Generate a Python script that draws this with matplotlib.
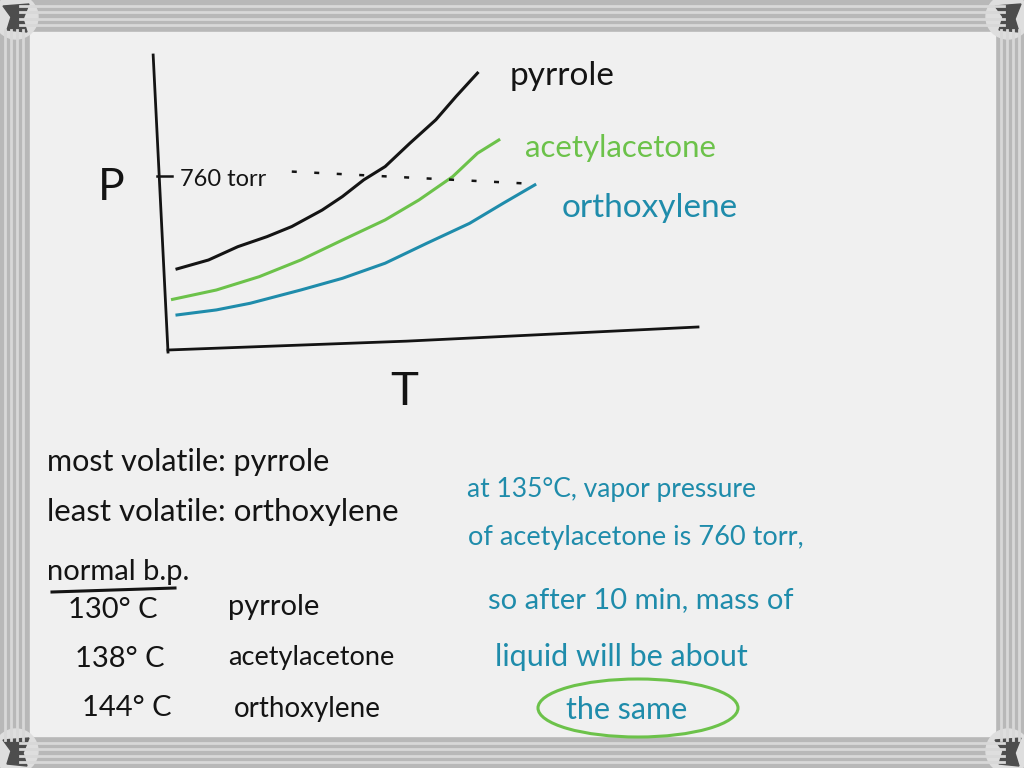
import matplotlib
matplotlib.use("Agg")
import matplotlib.pyplot as plt
from matplotlib.patches import Rectangle, Ellipse, Polygon, Circle

plt.rcParams['font.family'] = ['Lato', 'DejaVu Sans']

# vapour pressure curves (T in deg C, P in torr)
pyrrole_T = [113.0, 115.8, 118.4, 121.0, 123.2, 125.9, 127.7, 129.6, 131.5, 133.7, 136.0, 137.8, 139.7]
pyrrole_P = [354, 393, 451, 495, 539, 611, 670, 743, 801, 903, 1005, 1107, 1209]

acac_T = [112.6, 116.5, 120.3, 124.0, 127.7, 131.5, 134.5, 137.5, 139.7, 141.6]
acac_P = [221, 262, 320, 393, 480, 568, 655, 757, 859, 917]

oxylene_T = [113.0, 116.5, 119.5, 124.0, 127.7, 131.5, 135.2, 139.0, 142.0, 144.8]
oxylene_P = [153, 175, 204, 262, 313, 379, 466, 553, 641, 721]

# dotted 760 torr guide
ref_T = [123.2, 144.4]
ref_P = [779, 726]

names = ['pyrrole', 'acetylacetone', 'orthoxylene']
boiling_points = ['130° C', '138° C', '144° C']

black = '#141414'
green = '#6cc24a'
blue = '#1f8cab'

fig = plt.figure(figsize=(10.24, 7.68), dpi=100)

# whiteboard frame, drawn in pixel space
board = fig.add_axes([0, 0, 1, 1])
board.set_xlim(0, 1024)
board.set_ylim(768, 0)
board.axis('off')
board.add_patch(Rectangle((0, 0), 1024, 768, color='#b8b8b8'))
for y in [6, 12, 19, 25]:
    board.plot([20, 1004], [y, y], color='#d8d8d8', lw=2)
    board.plot([20, 1004], [768 - y, 768 - y], color='#d8d8d8', lw=2)
for x in [5, 11, 17, 23]:
    board.plot([x, x], [30, 740], color='#d8d8d8', lw=2)
    board.plot([1024 - x, 1024 - x], [30, 740], color='#d8d8d8', lw=2)
board.add_patch(Rectangle((30, 32), 965, 704, color='#f0f0f0'))
for cx, cy in [(16, 17), (1008, 17), (16, 751), (1008, 751)]:
    board.add_patch(Circle((cx, cy), 22, color='#dedede'))
    board.add_patch(Polygon([(cx - 13, cy - 11), (cx + 13, cy - 13), (cx + 7, cy + 2),
                             (cx + 11, cy + 15), (cx - 9, cy + 13), (cx - 5, cy)],
                            closed=True, color='#4d4d4d'))

# the P-T sketch
ax = fig.add_axes([168 / 1024, 418 / 768, 530 / 1024, 295 / 768])
ax.set_xlim(112.2, 159.3)
ax.set_ylim(0, 1288)
ax.axis('off')
ax.plot([-0.028, 0.0], [1.0, -0.007], color=black, lw=2, transform=ax.transAxes, clip_on=False)
ax.plot([0.0, 0.45, 1.0], [0.0, 0.03, 0.078], color=black, lw=2, transform=ax.transAxes, clip_on=False)
ax.plot([-0.02, 0.008], [0.59, 0.59], color=black, lw=1.8, transform=ax.transAxes, clip_on=False)

ax.plot(pyrrole_T, pyrrole_P, color=black, lw=2.2)
ax.plot(acac_T, acac_P, color=green, lw=2.2)
ax.plot(oxylene_T, oxylene_P, color=blue, lw=2.2)
ax.plot(ref_T, ref_P, color=black, lw=1.8, linestyle=(0, (2, 7)))

# labels and notes, in pixel space
def note(x, y, s, color=black, size=19):
    board.text(x, y, s, color=color, fontsize=size, va='center', ha='left')

note(98, 188, 'P', size=32)
note(390, 392, 'T', size=34)
note(180, 180, '760 torr', size=17)
note(510, 76, names[0], size=24)
note(525, 148, names[1], color=green, size=22.5)
note(562, 208, names[2], color=blue, size=24)

note(47, 462, 'most volatile: ' + names[0], size=22)
note(47, 512, 'least volatile: ' + names[2], size=22.5)
note(47, 572, 'normal b.p.', size=21)
board.plot([52, 175], [592, 588], color=black, lw=2.2)
bp_sizes = [21, 21, 21]
name_sizes = [21, 19.5, 20]
for i, (bp, nm) in enumerate(zip(boiling_points, names)):
    note(68 + 7 * i, 610 + 49 * i, bp, size=bp_sizes[i])
    note(228 + 6 * (i == 2), 607 + 51 * i, nm, size=name_sizes[i])

note(467, 490, 'at 135°C, vapor pressure', color=blue, size=19)
note(468, 537, 'of acetylacetone is 760 torr,', color=blue, size=19.5)
note(488, 600, 'so after 10 min, mass of', color=blue, size=21)
note(495, 657, 'liquid will be about', color=blue, size=22)
note(566, 710, 'the same', color=blue, size=22)
board.add_patch(Ellipse((638, 708), 200, 58, fill=False, edgecolor=green, lw=2.2))

fig.savefig('out.png', dpi=100)
